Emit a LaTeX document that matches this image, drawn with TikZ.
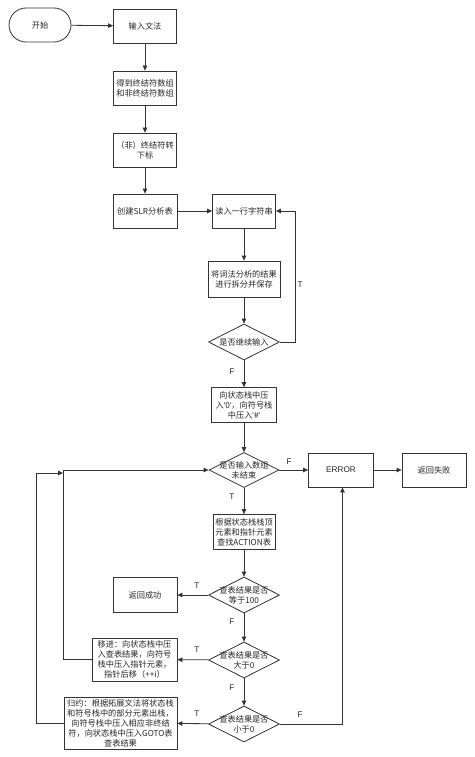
\documentclass[tikz,border=0pt]{standalone}
\usepackage{fontspec}
\setmainfont{Noto Sans CJK SC}
\newfontfamily\latinfont{Liberation Sans}
\usetikzlibrary{shapes.geometric,shapes.misc,arrows.meta}
\tikzset{
  base/.style={draw=black!80, line width=0.8pt, text=black!85, font=\fontsize{8.2}{10}\selectfont, align=center, inner sep=1pt},
  box/.style={base, rectangle, minimum width=#1, minimum height=34pt},
  box/.default=64pt,
  term/.style={base, rounded rectangle, minimum width=64pt, minimum height=34pt},
  dec/.style={base, diamond, minimum width=71pt, minimum height=36pt, inner sep=0pt},
  lbl/.style={font=\latinfont\fontsize{8.2}{10}\selectfont, text=black!85, inner sep=0pt},
  conn/.style={draw=black!80, line width=0.8pt, -{Triangle[length=5pt,width=4.5pt]}},
  line/.style={draw=black!80, line width=0.8pt}
}
\newcommand{\sq}{{\latinfont\textquotesingle}}
\begin{document}
\begin{tikzpicture}[x=1pt,y=-1pt]
\useasboundingbox[fill=white] (0,0) rectangle (474,757);
% nodes
\node[term] (start) at (40,25) {开始};
\node[box=63pt] (b1) at (145,26) {输入文法};
\node[box=63pt] (b2) at (145,88) {得到终结符数组\\和非终结符数组};
\node[box=63pt] (b3) at (145,150) {（非）终结符转\\下标};
\node[box=64pt] (b4) at (145,211) {创建SLR分析表};
\node[box=63pt] (b5) at (244,211) {读入一行字符串};
\node[box=72pt, minimum height=36pt] (b6) at (244,279) {将词法分析的结果\\进行拆分并保存};
\node[dec, label={[font=\fontsize{8.2}{10}\selectfont, text=black!85]center:是否继续输入}] (d1) at (244,342) {};
\node[box=65pt, minimum height=35pt] (b7) at (244,405) {向状态栈中压\\入\sq0\sq，向符号栈\\中压入\sq\#\sq};
\node[dec, minimum width=70pt, minimum height=35pt, label={[font=\fontsize{8.2}{10}\selectfont, text=black!85, align=center]center:是否输入数组\\未结束}] (d2) at (244,470) {};
\node[box=65pt, font=\latinfont\fontsize{8.2}{10}\selectfont] (err) at (341,470) {ERROR};
\node[box=64pt] (fail) at (434,470) {返回失败};
\node[box=62pt, minimum height=35pt] (b8) at (244,532) {根据状态栈栈顶\\元素和指针元素\\查找ACTION表};
\node[dec, label={[font=\fontsize{8.2}{10}\selectfont, text=black!85, align=center]center:查表结果是否\\等于100}] (d3) at (244,595) {};
\node[box=64pt, minimum height=35pt] (succ) at (145,595) {返回成功};
\node[dec, label={[font=\fontsize{8.2}{10}\selectfont, text=black!85, align=center]center:查表结果是否\\大于0}] (d4) at (244,660) {};
\node[box=85pt, minimum height=43pt] (shift) at (134.5,659.5) {移进：向状态栈中压\\入查表结果，向符号\\栈中压入指针元素，\\指针后移（++i）};
\node[dec, label={[font=\fontsize{8.2}{10}\selectfont, text=black!85, align=center]center:查表结果是否\\小于0}] (d5) at (244,724) {};
\node[box=113pt, minimum height=52pt] (reduce) at (120.5,723) {归约：根据拓展文法将状态栈\\和符号栈中的部分元素出栈，\\向符号栈中压入相应非终结\\符，向状态栈中压入GOTO表\\查表结果};
\coordinate (join) at (63,473);
% labels
\node[lbl] (t1) at (300,285) {T};
\node[lbl] (f1) at (232,372) {F};
\node[lbl] (f2) at (289,462) {F};
\node[lbl] (t2) at (232,497) {T};
\node[lbl] (t3) at (197,586) {T};
\node[lbl] (f3) at (232,622) {F};
\node[lbl] (t4) at (197,650) {T};
\node[lbl] (f4) at (232,688) {F};
\node[lbl] (t5) at (197,714) {T};
\node[lbl] (f5) at (300,715) {F};
% connectors
\draw[conn] (start) -- (b1);
\draw[conn] (b1) -- (b2);
\draw[conn] (b2) -- (b3);
\draw[conn] (b3) -- (b4);
\draw[conn] (b4) -- (b5);
\draw[conn] (b5) -- (b6);
\draw[conn] (b6) -- (d1);
\draw[conn] (d1.east) -- ++(15,0) |- (b5.east);
\draw[conn] (d1) -- (b7);
\draw[conn] (b7) -- (d2);
\draw[conn] (d2) -- (err);
\draw[conn] (err) -- (fail);
\draw[conn] (d2) -- (b8);
\draw[conn] (b8) -- (d3);
\draw[conn] (d3) -- (succ);
\draw[conn] (d3) -- (d4);
\draw[conn] (d4) -- (shift);
\draw[conn] (d4) -- (d5);
\draw[conn] (d5) -- (reduce);
\draw[conn] (d5.east) -| ([xshift=1.5pt]err.south);
\draw[conn] (shift.west) -| (63,470) -- (d2.west);
\draw[conn] (reduce.west) -| (36,473) -- (join);
\end{tikzpicture}
\end{document}
